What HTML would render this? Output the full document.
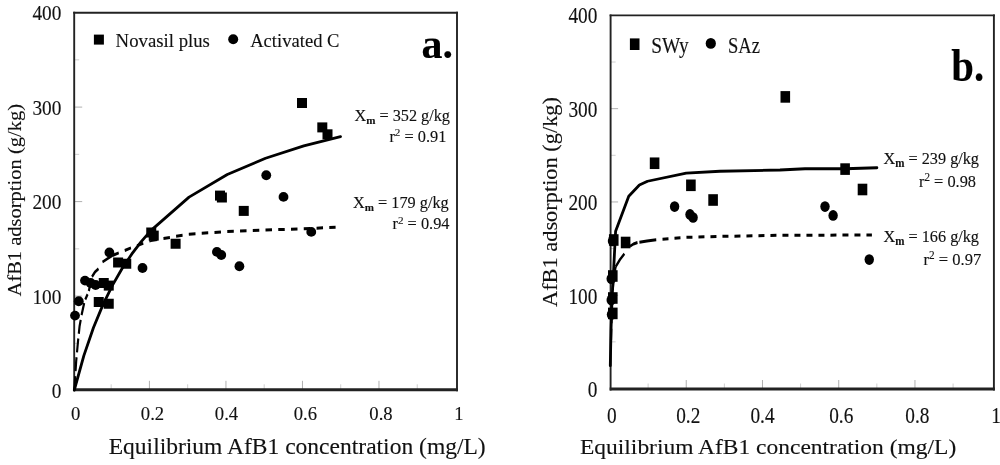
<!DOCTYPE html>
<html lang="en"><head><meta charset="utf-8"><title>AfB1 adsorption isotherms</title>
<style>
html,body{margin:0;padding:0;background:#fff;}
body{width:1000px;height:465px;overflow:hidden;}
svg{display:block;font-family:"Liberation Serif", serif;filter:blur(0.4px);}
text{stroke:#111;stroke-width:0.12px;}
</style></head><body>
<svg width="1000" height="465" viewBox="0 0 1000 465">
<rect width="1000" height="465" fill="#fff"/>
<line x1="74.20" y1="296.10" x2="82.20" y2="296.10" stroke="#b0b0b0" stroke-width="1"/>
<line x1="74.20" y1="201.60" x2="82.20" y2="201.60" stroke="#b0b0b0" stroke-width="1"/>
<line x1="74.20" y1="107.10" x2="82.20" y2="107.10" stroke="#b0b0b0" stroke-width="1"/>
<line x1="74.20" y1="343.35" x2="79.20" y2="343.35" stroke="#cfcfcf" stroke-width="1"/>
<line x1="74.20" y1="248.85" x2="79.20" y2="248.85" stroke="#cfcfcf" stroke-width="1"/>
<line x1="74.20" y1="154.35" x2="79.20" y2="154.35" stroke="#cfcfcf" stroke-width="1"/>
<line x1="74.20" y1="59.85" x2="79.20" y2="59.85" stroke="#cfcfcf" stroke-width="1"/>
<line x1="149.42" y1="389.80" x2="149.42" y2="380.80" stroke="#b0b0b0" stroke-width="1"/>
<line x1="225.94" y1="389.80" x2="225.94" y2="380.80" stroke="#b0b0b0" stroke-width="1"/>
<line x1="302.46" y1="389.80" x2="302.46" y2="380.80" stroke="#b0b0b0" stroke-width="1"/>
<line x1="378.98" y1="389.80" x2="378.98" y2="380.80" stroke="#b0b0b0" stroke-width="1"/>
<line x1="111.16" y1="389.80" x2="111.16" y2="384.30" stroke="#cfcfcf" stroke-width="1"/>
<line x1="187.68" y1="389.80" x2="187.68" y2="384.30" stroke="#cfcfcf" stroke-width="1"/>
<line x1="264.20" y1="389.80" x2="264.20" y2="384.30" stroke="#cfcfcf" stroke-width="1"/>
<line x1="340.72" y1="389.80" x2="340.72" y2="384.30" stroke="#cfcfcf" stroke-width="1"/>
<line x1="417.24" y1="389.80" x2="417.24" y2="384.30" stroke="#cfcfcf" stroke-width="1"/>
<line x1="74.20" y1="11.85" x2="74.20" y2="391.30" stroke="#222" stroke-width="1.9"/>
<line x1="457.00" y1="11.85" x2="457.00" y2="391.30" stroke="#222" stroke-width="1.9"/>
<line x1="73.25" y1="12.80" x2="457.95" y2="12.80" stroke="#222" stroke-width="1.9"/>
<line x1="73.25" y1="389.80" x2="457.95" y2="389.80" stroke="#222" stroke-width="3.1"/>
<g transform="scale(1,1)"><polyline points="74.30,390.00 83.86,355.66 93.42,327.76 102.99,304.63 112.55,285.15 122.11,268.52 131.68,254.16 141.24,241.63 150.80,230.60 189.05,197.15 227.30,174.55 265.55,158.25 303.80,145.95 340.52,136.67" fill="none" stroke="#000" stroke-width="2.8" stroke-linejoin="round" stroke-linecap="round"/></g>
<g transform="scale(1,1.4)"><polyline points="74.30,278.57 76.20,257.86 78.10,243.14 79.60,232.86 82.00,223.57 84.20,216.43" fill="none" stroke="#000" stroke-width="2.15" stroke-linejoin="round" stroke-linecap="butt" stroke-dasharray="10 3.5"/></g>
<g transform="scale(1,1.4)"><polyline points="85.30,213.93 87.60,210.21" fill="none" stroke="#000" stroke-width="2.15" stroke-linecap="butt" stroke-linejoin="round"/></g>
<g transform="scale(1,1.4)"><polyline points="88.80,207.86 91.00,200.71" fill="none" stroke="#000" stroke-width="2.15" stroke-linecap="butt" stroke-linejoin="round"/></g>
<g transform="scale(1,1.4)"><polyline points="92.00,197.71 95.00,194.29 98.50,192.00" fill="none" stroke="#000" stroke-width="2.15" stroke-linecap="butt" stroke-linejoin="round"/></g>
<g transform="scale(1,1.4)"><polyline points="102.50,187.14 107.00,185.00 112.50,182.50" fill="none" stroke="#000" stroke-width="2.15" stroke-linecap="butt" stroke-linejoin="round"/></g>
<g transform="scale(1,1.4)"><polyline points="112.50,182.50 131.60,176.86 150.80,171.86" fill="none" stroke="#000" stroke-width="2.15" stroke-linejoin="round" stroke-linecap="butt" stroke-dasharray="6.5 6.25"/></g>
<g transform="scale(1,1.4)"><polyline points="150.80,171.86 189.00,167.29" fill="none" stroke="#000" stroke-width="2.15" stroke-linejoin="round" stroke-linecap="butt" stroke-dasharray="6.5 6.25"/></g>
<g transform="scale(1,1.4)"><polyline points="189.00,167.29 227.30,165.36" fill="none" stroke="#000" stroke-width="2.15" stroke-linejoin="round" stroke-linecap="butt" stroke-dasharray="6.5 6.25"/></g>
<g transform="scale(1,1.4)"><polyline points="227.30,165.36 265.50,164.29" fill="none" stroke="#000" stroke-width="2.15" stroke-linejoin="round" stroke-linecap="butt" stroke-dasharray="6.5 6.25"/></g>
<g transform="scale(1,1.4)"><polyline points="265.50,164.29 303.80,163.43" fill="none" stroke="#000" stroke-width="2.15" stroke-linejoin="round" stroke-linecap="butt" stroke-dasharray="6.5 6.25"/></g>
<g transform="scale(1,1.4)"><polyline points="303.80,163.43 335.60,162.32" fill="none" stroke="#000" stroke-width="2.15" stroke-linejoin="round" stroke-linecap="butt" stroke-dasharray="6.5 6.25"/></g>
<rect x="93.75" y="297.00" width="10" height="10" fill="#000"/>
<rect x="103.75" y="298.75" width="10" height="10" fill="#000"/>
<rect x="98.75" y="278.00" width="10" height="10" fill="#000"/>
<rect x="103.75" y="280.60" width="10" height="10" fill="#000"/>
<rect x="113.10" y="257.50" width="10" height="10" fill="#000"/>
<rect x="121.25" y="258.75" width="10" height="10" fill="#000"/>
<rect x="146.25" y="227.50" width="10" height="10" fill="#000"/>
<rect x="148.75" y="230.60" width="10" height="10" fill="#000"/>
<rect x="170.60" y="238.75" width="10" height="10" fill="#000"/>
<rect x="215.00" y="190.60" width="10" height="10" fill="#000"/>
<rect x="216.90" y="192.50" width="10" height="10" fill="#000"/>
<rect x="238.75" y="205.90" width="10" height="10" fill="#000"/>
<rect x="297.00" y="98.00" width="10" height="10" fill="#000"/>
<rect x="317.30" y="122.40" width="10" height="10" fill="#000"/>
<rect x="322.50" y="129.30" width="10" height="10" fill="#000"/>
<ellipse cx="75.00" cy="315.60" rx="4.9" ry="4.9" fill="#000"/>
<ellipse cx="78.75" cy="301.25" rx="4.9" ry="4.9" fill="#000"/>
<ellipse cx="85.00" cy="280.60" rx="4.9" ry="4.9" fill="#000"/>
<ellipse cx="90.60" cy="283.00" rx="4.9" ry="4.9" fill="#000"/>
<ellipse cx="95.60" cy="285.00" rx="4.9" ry="4.9" fill="#000"/>
<ellipse cx="109.40" cy="252.50" rx="4.9" ry="4.9" fill="#000"/>
<ellipse cx="142.50" cy="268.00" rx="4.9" ry="4.9" fill="#000"/>
<ellipse cx="216.90" cy="251.90" rx="4.9" ry="4.9" fill="#000"/>
<ellipse cx="221.25" cy="255.00" rx="4.9" ry="4.9" fill="#000"/>
<ellipse cx="239.40" cy="266.25" rx="4.9" ry="4.9" fill="#000"/>
<ellipse cx="266.25" cy="175.25" rx="4.9" ry="4.9" fill="#000"/>
<ellipse cx="283.50" cy="196.90" rx="4.9" ry="4.9" fill="#000"/>
<ellipse cx="311.25" cy="231.90" rx="4.9" ry="4.9" fill="#000"/>
<rect x="93.90" y="34.60" width="10" height="10" fill="#000"/>
<text transform="translate(115.60,47.30)" font-size="18.67" text-anchor="start" font-weight="normal" fill="#111" textLength="94.30" lengthAdjust="spacingAndGlyphs">Novasil plus</text>
<ellipse cx="233.20" cy="39.20" rx="5" ry="5" fill="#000"/>
<text transform="translate(250.20,47.30)" font-size="18.67" text-anchor="start" font-weight="normal" fill="#111" textLength="89.30" lengthAdjust="spacingAndGlyphs">Activated C</text>
<text transform="translate(421.50,58.00)" font-size="42" text-anchor="start" font-weight="bold" fill="#000">a.</text>
<text transform="translate(61.30,20.00) scale(1,1.070)" font-size="19.3" text-anchor="end" font-weight="normal" fill="#111">400</text>
<text transform="translate(61.30,114.50) scale(1,1.070)" font-size="19.3" text-anchor="end" font-weight="normal" fill="#111">300</text>
<text transform="translate(61.30,209.00) scale(1,1.070)" font-size="19.3" text-anchor="end" font-weight="normal" fill="#111">200</text>
<text transform="translate(61.30,303.50) scale(1,1.070)" font-size="19.3" text-anchor="end" font-weight="normal" fill="#111">100</text>
<text transform="translate(61.30,398.00) scale(1,1.070)" font-size="19.3" text-anchor="end" font-weight="normal" fill="#111">0</text>
<text transform="translate(75.60,420.30)" font-size="18.67" text-anchor="middle" font-weight="normal" fill="#111">0</text>
<text transform="translate(152.50,420.30)" font-size="18.67" text-anchor="middle" font-weight="normal" fill="#111">0.2</text>
<text transform="translate(226.50,420.30)" font-size="18.67" text-anchor="middle" font-weight="normal" fill="#111">0.4</text>
<text transform="translate(305.40,420.30)" font-size="18.67" text-anchor="middle" font-weight="normal" fill="#111">0.6</text>
<text transform="translate(381.00,420.30)" font-size="18.67" text-anchor="middle" font-weight="normal" fill="#111">0.8</text>
<text transform="translate(459.00,420.30)" font-size="18.67" text-anchor="middle" font-weight="normal" fill="#111">1</text>
<text transform="translate(108.70,454.20)" font-size="22.5" text-anchor="start" font-weight="normal" fill="#111" textLength="377.00" lengthAdjust="spacingAndGlyphs">Equilibrium AfB1 concentration (mg/L)</text>
<text transform="translate(21.00,296.50) rotate(-90)" font-size="19.7" text-anchor="start" font-weight="normal" fill="#111" textLength="192.50" lengthAdjust="spacingAndGlyphs">AfB1 adsorption (g/kg)</text>
<text transform="translate(354.40,120.60)" font-size="16" text-anchor="start" font-weight="normal" fill="#111" textLength="95.60" lengthAdjust="spacingAndGlyphs">X<tspan font-size="10.9" dy="2.9" font-weight="bold">m</tspan><tspan dy="-2.9"> = 352 g/kg</tspan></text>
<text transform="translate(389.40,141.90)" font-size="16" text-anchor="start" font-weight="normal" fill="#111" textLength="57.00" lengthAdjust="spacingAndGlyphs">r<tspan font-size="10.9" dy="-5.8">2</tspan><tspan dy="5.8"> = 0.91</tspan></text>
<text transform="translate(353.10,208.20)" font-size="16" text-anchor="start" font-weight="normal" fill="#111" textLength="95.60" lengthAdjust="spacingAndGlyphs">X<tspan font-size="10.9" dy="2.9" font-weight="bold">m</tspan><tspan dy="-2.9"> = 179 g/kg</tspan></text>
<text transform="translate(392.50,229.40)" font-size="16" text-anchor="start" font-weight="normal" fill="#111" textLength="57.00" lengthAdjust="spacingAndGlyphs">r<tspan font-size="10.9" dy="-5.8">2</tspan><tspan dy="5.8"> = 0.94</tspan></text>
<line x1="610.60" y1="295.22" x2="618.10" y2="295.22" stroke="#b0b0b0" stroke-width="1"/>
<line x1="610.60" y1="201.94" x2="618.10" y2="201.94" stroke="#b0b0b0" stroke-width="1"/>
<line x1="610.60" y1="108.66" x2="618.10" y2="108.66" stroke="#b0b0b0" stroke-width="1"/>
<line x1="610.60" y1="341.86" x2="615.60" y2="341.86" stroke="#cfcfcf" stroke-width="1"/>
<line x1="610.60" y1="248.58" x2="615.60" y2="248.58" stroke="#cfcfcf" stroke-width="1"/>
<line x1="610.60" y1="155.30" x2="615.60" y2="155.30" stroke="#cfcfcf" stroke-width="1"/>
<line x1="610.60" y1="62.02" x2="615.60" y2="62.02" stroke="#cfcfcf" stroke-width="1"/>
<line x1="686.24" y1="389.00" x2="686.24" y2="380.00" stroke="#b0b0b0" stroke-width="1"/>
<line x1="762.48" y1="389.00" x2="762.48" y2="380.00" stroke="#b0b0b0" stroke-width="1"/>
<line x1="838.72" y1="389.00" x2="838.72" y2="380.00" stroke="#b0b0b0" stroke-width="1"/>
<line x1="914.96" y1="389.00" x2="914.96" y2="380.00" stroke="#b0b0b0" stroke-width="1"/>
<line x1="648.12" y1="389.00" x2="648.12" y2="383.50" stroke="#cfcfcf" stroke-width="1"/>
<line x1="724.36" y1="389.00" x2="724.36" y2="383.50" stroke="#cfcfcf" stroke-width="1"/>
<line x1="800.60" y1="389.00" x2="800.60" y2="383.50" stroke="#cfcfcf" stroke-width="1"/>
<line x1="876.84" y1="389.00" x2="876.84" y2="383.50" stroke="#cfcfcf" stroke-width="1"/>
<line x1="953.08" y1="389.00" x2="953.08" y2="383.50" stroke="#cfcfcf" stroke-width="1"/>
<line x1="610.60" y1="14.45" x2="610.60" y2="390.50" stroke="#222" stroke-width="1.9"/>
<line x1="993.90" y1="14.45" x2="993.90" y2="390.50" stroke="#222" stroke-width="1.9"/>
<line x1="609.65" y1="15.40" x2="994.85" y2="15.40" stroke="#222" stroke-width="1.9"/>
<line x1="609.65" y1="389.00" x2="994.85" y2="389.00" stroke="#222" stroke-width="3.1"/>
<g transform="scale(1,1)"><polyline points="610.30,365.60 611.00,330.00 612.00,300.00 613.75,267.50 615.60,231.25 628.75,196.25 639.40,185.00 647.50,181.25 686.25,173.10 720.00,171.25 780.00,170.00 805.00,168.75 845.00,168.75 876.90,167.75" fill="none" stroke="#000" stroke-width="2.8" stroke-linejoin="round" stroke-linecap="round"/></g>
<g transform="scale(1,1.4)"><polyline points="611.00,242.86 612.00,214.29 613.50,200.00 615.60,190.71" fill="none" stroke="#000" stroke-width="2.15" stroke-linejoin="round" stroke-linecap="butt" stroke-dasharray="8 4"/></g>
<g transform="scale(1,1.4)"><polyline points="615.60,190.64 620.00,185.36 624.40,181.25" fill="none" stroke="#000" stroke-width="2.15" stroke-linecap="butt" stroke-linejoin="round"/></g>
<g transform="scale(1,1.4)"><polyline points="630.00,175.89 633.50,174.29 637.50,173.21" fill="none" stroke="#000" stroke-width="2.15" stroke-linecap="butt" stroke-linejoin="round"/></g>
<g transform="scale(1,1.4)"><polyline points="639.40,173.07 647.00,172.14 656.25,171.25" fill="none" stroke="#000" stroke-width="2.15" stroke-linecap="butt" stroke-linejoin="round"/></g>
<g transform="scale(1,1.4)"><polyline points="662.50,170.93 686.00,169.50 720.00,168.86 780.00,168.07 871.90,167.86" fill="none" stroke="#000" stroke-width="2.15" stroke-linejoin="round" stroke-linecap="butt" stroke-dasharray="6 6"/></g>
<rect x="608.00" y="270.20" width="9.6" height="11.6" fill="#000"/>
<rect x="608.00" y="292.20" width="9.6" height="11.6" fill="#000"/>
<rect x="608.00" y="307.60" width="9.6" height="11.6" fill="#000"/>
<rect x="608.95" y="234.20" width="9.6" height="11.6" fill="#000"/>
<rect x="620.80" y="236.70" width="9.6" height="11.6" fill="#000"/>
<rect x="649.80" y="157.45" width="9.6" height="11.6" fill="#000"/>
<rect x="686.10" y="179.50" width="9.6" height="11.6" fill="#000"/>
<rect x="708.30" y="194.20" width="9.6" height="11.6" fill="#000"/>
<rect x="780.50" y="91.10" width="9.6" height="11.6" fill="#000"/>
<rect x="840.30" y="163.30" width="9.6" height="11.6" fill="#000"/>
<rect x="857.70" y="183.70" width="9.6" height="11.6" fill="#000"/>
<ellipse cx="611.20" cy="278.70" rx="4.7" ry="5.3" fill="#000"/>
<ellipse cx="611.20" cy="300.00" rx="4.7" ry="5.3" fill="#000"/>
<ellipse cx="611.50" cy="314.50" rx="4.7" ry="5.3" fill="#000"/>
<ellipse cx="612.50" cy="241.00" rx="4.7" ry="5.3" fill="#000"/>
<ellipse cx="674.60" cy="206.60" rx="4.7" ry="5.3" fill="#000"/>
<ellipse cx="690.00" cy="214.40" rx="4.7" ry="5.3" fill="#000"/>
<ellipse cx="693.10" cy="217.50" rx="4.7" ry="5.3" fill="#000"/>
<ellipse cx="825.00" cy="206.60" rx="4.7" ry="5.3" fill="#000"/>
<ellipse cx="833.10" cy="215.40" rx="4.7" ry="5.3" fill="#000"/>
<ellipse cx="869.25" cy="259.60" rx="4.7" ry="5.3" fill="#000"/>
<rect x="629.90" y="38.40" width="9.6" height="11.6" fill="#000"/>
<text transform="translate(651.20,52.60) scale(1,1.180)" font-size="18.67" text-anchor="start" font-weight="normal" fill="#111" textLength="37.60" lengthAdjust="spacingAndGlyphs">SWy</text>
<ellipse cx="710.80" cy="43.40" rx="5.1" ry="5.4" fill="#000"/>
<text transform="translate(728.00,52.60) scale(1,1.180)" font-size="18.67" text-anchor="start" font-weight="normal" fill="#111" textLength="32.00" lengthAdjust="spacingAndGlyphs">SAz</text>
<text transform="translate(951.30,80.60) scale(1,1.130)" font-size="40.8" text-anchor="start" font-weight="bold" fill="#000">b.</text>
<text transform="translate(597.40,23.30) scale(1,1.190)" font-size="19.3" text-anchor="end" font-weight="normal" fill="#111">400</text>
<text transform="translate(597.40,116.80) scale(1,1.190)" font-size="19.3" text-anchor="end" font-weight="normal" fill="#111">300</text>
<text transform="translate(597.40,210.30) scale(1,1.190)" font-size="19.3" text-anchor="end" font-weight="normal" fill="#111">200</text>
<text transform="translate(597.40,303.80) scale(1,1.190)" font-size="19.3" text-anchor="end" font-weight="normal" fill="#111">100</text>
<text transform="translate(597.40,397.30) scale(1,1.190)" font-size="19.3" text-anchor="end" font-weight="normal" fill="#111">0</text>
<text transform="translate(611.90,422.50) scale(1,1.190)" font-size="19.3" text-anchor="middle" font-weight="normal" fill="#111">0</text>
<text transform="translate(688.25,422.50) scale(1,1.190)" font-size="19.3" text-anchor="middle" font-weight="normal" fill="#111">0.2</text>
<text transform="translate(762.50,422.50) scale(1,1.190)" font-size="19.3" text-anchor="middle" font-weight="normal" fill="#111">0.4</text>
<text transform="translate(841.25,422.50) scale(1,1.190)" font-size="19.3" text-anchor="middle" font-weight="normal" fill="#111">0.6</text>
<text transform="translate(917.40,422.50) scale(1,1.190)" font-size="19.3" text-anchor="middle" font-weight="normal" fill="#111">0.8</text>
<text transform="translate(996.00,422.50) scale(1,1.190)" font-size="19.3" text-anchor="middle" font-weight="normal" fill="#111">1</text>
<text transform="translate(580.00,453.80)" font-size="21.5" text-anchor="start" font-weight="normal" fill="#111" textLength="376.20" lengthAdjust="spacingAndGlyphs">Equilibrium AfB1 concentration (mg/L)</text>
<text transform="translate(556.50,307.00) rotate(-90)" font-size="20.3" text-anchor="start" font-weight="normal" fill="#111" textLength="210.00" lengthAdjust="spacingAndGlyphs">AfB1 adsorption (g/kg)</text>
<text transform="translate(883.50,163.75) scale(1,1.080)" font-size="16" text-anchor="start" font-weight="normal" fill="#111" textLength="95.50" lengthAdjust="spacingAndGlyphs">X<tspan font-size="10.9" dy="2.9" font-weight="bold">m</tspan><tspan dy="-2.9"> = 239 g/kg</tspan></text>
<text transform="translate(919.00,187.25) scale(1,1.080)" font-size="16" text-anchor="start" font-weight="normal" fill="#111" textLength="57.00" lengthAdjust="spacingAndGlyphs">r<tspan font-size="10.9" dy="-5.8">2</tspan><tspan dy="5.8"> = 0.98</tspan></text>
<text transform="translate(883.50,241.90) scale(1,1.080)" font-size="16" text-anchor="start" font-weight="normal" fill="#111" textLength="95.50" lengthAdjust="spacingAndGlyphs">X<tspan font-size="10.9" dy="2.9" font-weight="bold">m</tspan><tspan dy="-2.9"> = 166 g/kg</tspan></text>
<text transform="translate(923.50,265.25) scale(1,1.080)" font-size="16" text-anchor="start" font-weight="normal" fill="#111" textLength="57.70" lengthAdjust="spacingAndGlyphs">r<tspan font-size="10.9" dy="-5.8">2</tspan><tspan dy="5.8"> = 0.97</tspan></text>
</svg>
</body></html>
